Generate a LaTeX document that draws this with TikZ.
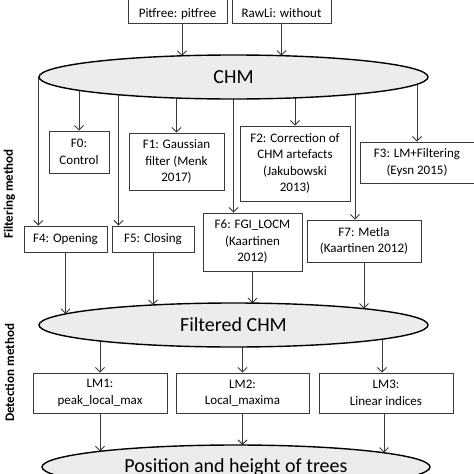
\documentclass[tikz,border=0pt]{standalone}
\usepackage{fontspec}
\setmainfont{Carlito}
\usetikzlibrary{arrows.meta,shapes.geometric,backgrounds,calc}
\definecolor{lc}{HTML}{3A3A3A}
\definecolor{ef}{HTML}{ECECEC}
\newcommand\ArrIn[2]{\draw[arr] let \p1=(#2.center), \p2=(#1) in (\p2) -- (\x2,{\y1+22*sqrt(1-((\x2-\x1)/194.5)^2)});}
\begin{document}
\begin{tikzpicture}[x=1pt,y=-1pt,
 box/.style={draw=lc,line width=0.9pt,fill=white,align=center,inner sep=0pt,font=\fontsize{13}{16.5}\selectfont},
 oval/.style={ellipse,draw=black,line width=1.4pt,fill=ef,inner sep=0pt,minimum width=389pt,minimum height=44pt,font=\fontsize{20}{22}\selectfont},
 arr/.style={draw=lc,line width=0.9pt,-{Straight Barb[length=4.5pt,width=9pt]}},
 lab/.style={rotate=90,inner sep=0pt,font=\fontsize{13}{15}\selectfont\bfseries}]
\useasboundingbox (0,0) rectangle (474,474);
\clip (0,0) rectangle (474,474);
\node[box,anchor=south,minimum width=99pt,text height=30pt,text depth=6pt] (pit) at (177.5,24) {Pitfree: pitfree};
\node[box,anchor=south,minimum width=99pt,text height=30pt,text depth=6pt] (raw) at (281.5,24) {RawLi: without};
\node[oval] (chm) at (233.5,77) {CHM};
\node[box,minimum width=60pt,minimum height=42pt] (f0) at (79,152) {F0:\\Control};
\node[box,minimum width=95pt,minimum height=57pt] (f1) at (176.5,161.5) {F1: Gaussian\\filter (Menk\\2017)};
\node[box,minimum width=110pt,minimum height=75pt] (f2) at (295,163.5) {F2: Correction of\\CHM artefacts\\(Jakubowski\\2013)};
\node[box,minimum width=114pt,minimum height=41pt] (f3) at (417,162.5) {F3: LM+Filtering\\(Eysn 2015)};
\node[box,minimum width=83pt,minimum height=26pt] (f4) at (65.5,239) {F4: Opening};
\node[box,minimum width=82pt,minimum height=26pt] (f5) at (153,239) {F5: Closing};
\node[box,minimum width=99pt,minimum height=58pt] (f6) at (252.5,242) {F6: FGI\_LOCM\\(Kaartinen\\2012)};
\node[box,minimum width=114pt,minimum height=42pt] (f7) at (364,241) {F7: Metla\\(Kaartinen 2012)};
\node[oval] (fchm) at (233.5,325) {Filtered CHM};
\node[box,minimum width=134pt,minimum height=40pt] (lm1) at (100,393) {LM1:\\peak\_local\_max};
\node[box,minimum width=133pt,minimum height=40pt] (lm2) at (242.5,393) {LM2:\\Local\_maxima};
\node[box,minimum width=134pt,minimum height=40pt] (lm3) at (386,393) {LM3:\\Linear indices};
\node[oval,minimum width=388pt] (pos) at (236,467) {Position and height of trees};
\node[lab] (lfilt) at (9.5,194) {Filtering method};
\node[lab] (ldet) at (9.5,373) {Detection method};
\begin{scope}[on background layer]
\ArrIn{[xshift=4.5pt]pit.south}{chm}
\ArrIn{raw.south}{chm}
\draw[arr] (chm.center -| f0.north) -- (f0.north);
\draw[arr] (chm.center -| f1.north) -- (f1.north);
\draw[arr] (chm.center -| f2.north) -- (f2.north);
\draw[arr] (chm.center -| f3.north) -- (f3.north);
\draw[arr] (chm.west) -- (chm.west |- f4.north);
\coordinate (f5in) at ([xshift=7pt]f5.north west);
\draw[arr] (chm.center -| f5in) -- (f5in);
\draw[arr] (chm.center) -- (chm.center |- f6.north);
\coordinate (f7in) at ([xshift=-9pt]f7.north);
\draw[arr] (chm.center -| f7in) -- (f7in);
\ArrIn{f4.south}{fchm}
\ArrIn{f5.south}{fchm}
\ArrIn{f6.south}{fchm}
\ArrIn{f7.south}{fchm}
\draw[arr] (fchm.center -| lm1.north) -- (lm1.north);
\draw[arr] (fchm.center -| lm2.north) -- (lm2.north);
\coordinate (lm3in) at ([xshift=-4pt]lm3.north);
\draw[arr] (fchm.center -| lm3in) -- (lm3in);
\ArrIn{lm1.south}{pos}
\ArrIn{lm2.south}{pos}
\ArrIn{[xshift=-2pt]lm3.south}{pos}
\end{scope}
\end{tikzpicture}
\end{document}
